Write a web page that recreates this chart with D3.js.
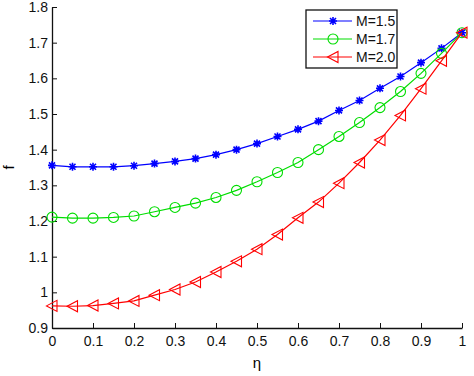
<!DOCTYPE html>
<html>
<head>
  <meta charset="UTF-8">
  <script src="https://d3js.org/d3.v7.min.js"></script>
  <style>
    * { margin: 0; padding: 0; }
    body { background: white; font-family: "Liberation Sans", Arial, sans-serif; }
  </style>
</head>
<body>
  <div id="chart"></div>
  <script>
    const eta = [0, 0.05, 0.1, 0.15, 0.2, 0.25, 0.3, 0.35, 0.4, 0.45, 0.5,
                 0.55, 0.6, 0.65, 0.7, 0.75, 0.8, 0.85, 0.9, 0.95, 1];
    const fM15 = [1.356, 1.352, 1.352, 1.352, 1.355, 1.361, 1.367, 1.375, 1.386, 1.400, 1.417,
                  1.437, 1.457, 1.480, 1.510, 1.538, 1.572, 1.605, 1.644, 1.684, 1.728];
    const fM17 = [1.211, 1.208, 1.208, 1.210, 1.214, 1.226, 1.238, 1.250, 1.266, 1.286, 1.310,
                  1.336, 1.364, 1.400, 1.437, 1.476, 1.518, 1.563, 1.614, 1.670, 1.728];
    const fM20 = [0.962, 0.961, 0.963, 0.969, 0.976, 0.992, 1.008, 1.029, 1.057, 1.087, 1.121,
                  1.162, 1.209, 1.253, 1.306, 1.364, 1.427, 1.496, 1.571, 1.649, 1.728];
    const xTicks = [0, 0.1, 0.2, 0.3, 0.4, 0.5, 0.6, 0.7, 0.8, 0.9, 1];
    const yTicks = [0.9, 1, 1.1, 1.2, 1.3, 1.4, 1.5, 1.6, 1.7, 1.8];

    const series = [
      {name: "M=1.5", values: fM15, color: "#0000ff", marker: "star"},
      {name: "M=1.7", values: fM17, color: "#00dd00", marker: "circle"},
      {name: "M=2.0", values: fM20, color: "#ff0000", marker: "tri"}
    ];

    const W = 474, H = 376;
    const margin = {top: 7, right: 12, bottom: 48, left: 52};
    const width = W - margin.left - margin.right,
          height = H - margin.top - margin.bottom;

    const svg = d3.select("#chart").append("svg")
      .attr("width", W).attr("height", H);
    const g = svg.append("g")
      .attr("transform", `translate(${margin.left},${margin.top})`);

    const x = d3.scaleLinear().domain([0, 1]).range([0, width]);
    const y = d3.scaleLinear().domain([0.9, 1.8]).range([height, 0]);

    // axes, ticks pointing inward
    const xAxis = g.append("g")
      .attr("transform", `translate(0,${height})`)
      .call(d3.axisBottom(x).tickValues(xTicks).tickSize(-5).tickSizeOuter(0)
        .tickFormat(d => d3.format("")(d)));
    const yAxis = g.append("g")
      .call(d3.axisLeft(y).tickValues(yTicks).tickSize(-5).tickSizeOuter(0)
        .tickFormat(d => d3.format("")(d)));

    [xAxis, yAxis].forEach(a => {
      a.selectAll("text").style("font-size", "14px")
        .style("font-family", "'Liberation Sans', Arial, sans-serif").attr("fill", "#111");
      a.selectAll("line").attr("stroke", "#111");
      a.select(".domain").attr("stroke", "#111").attr("stroke-width", 1.3);
    });
    xAxis.selectAll("text").attr("dy", "1.05em");
    yAxis.selectAll("text").attr("x", -4);

    g.append("text")
      .attr("x", width / 2).attr("y", height + 40)
      .attr("text-anchor", "middle").style("font-size", "15px")
      .text("η");
    g.append("text")
      .attr("transform", `translate(-38,${height / 2}) rotate(-90)`)
      .attr("text-anchor", "middle").style("font-size", "15px")
      .text("f");

    function drawMarker(sel, type, color) {
      if (type === "star") {
        const s = 4;
        sel.append("path")
          .attr("d", `M${-s},0H${s}M0,${-s}V${s}M${-s*0.75},${-s*0.75}L${s*0.75},${s*0.75}M${-s*0.75},${s*0.75}L${s*0.75},${-s*0.75}`)
          .attr("stroke", color).attr("stroke-width", 1.6).attr("fill", "none");
      } else if (type === "circle") {
        sel.append("circle").attr("r", 5)
          .attr("stroke", color).attr("stroke-width", 1.1).attr("fill", "none");
      } else {
        sel.append("path").attr("d", "M-5.5,0L5,-5.5L5,5.5Z")
          .attr("stroke", color).attr("stroke-width", 1.1).attr("fill", "none");
      }
    }

    const line = d3.line().x((d, i) => x(eta[i])).y(d => y(d));

    series.forEach(s => {
      g.append("path").datum(s.values)
        .attr("d", line).attr("fill", "none")
        .attr("stroke", s.color).attr("stroke-width", 1.2);
      s.values.forEach((v, i) => {
        const m = g.append("g").attr("transform", `translate(${x(eta[i])},${y(v)})`);
        drawMarker(m, s.marker, s.color);
      });
    });

    // legend
    const lg = svg.append("g").attr("transform", "translate(306,10)");
    lg.append("rect").attr("width", 91).attr("height", 58)
      .attr("fill", "white").attr("stroke", "#111").attr("stroke-width", 1.3);
    series.forEach((s, i) => {
      const row = lg.append("g").attr("transform", `translate(0,${11 + i * 18})`);
      row.append("line").attr("x1", 7).attr("x2", 46)
        .attr("stroke", s.color).attr("stroke-width", 1.2);
      const m = row.append("g").attr("transform", "translate(27,0)");
      drawMarker(m, s.marker, s.color);
      row.append("text").attr("x", 50).attr("y", 0).attr("dy", "0.36em")
        .style("font-size", "14px").attr("fill", "#111").text(s.name);
    });
  </script>
</body>
</html>
